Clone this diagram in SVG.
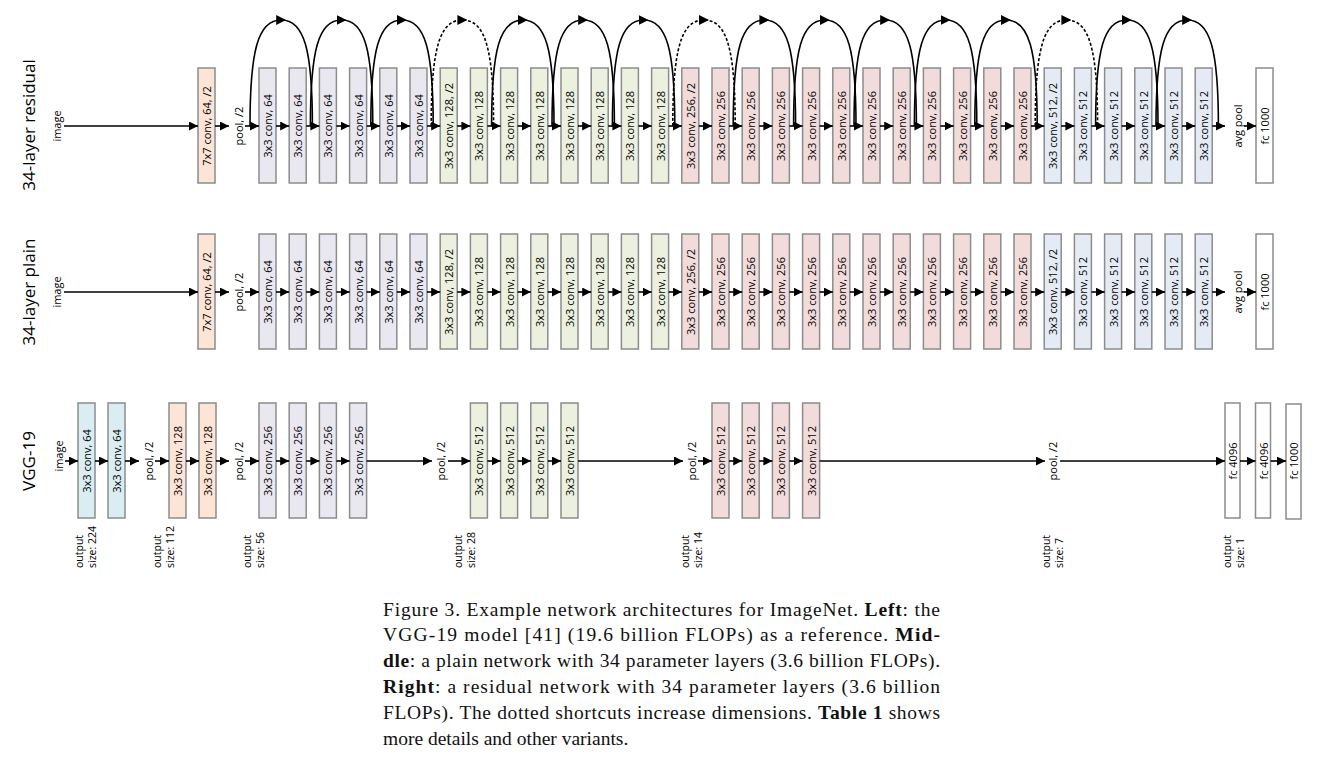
<svg xmlns="http://www.w3.org/2000/svg" width="1324" height="762" viewBox="0 0 1324 762">
<style>
.b{stroke:#8c8c8c;stroke-width:1.5}
.pu{fill:#e9e7f0}.gr{fill:#ebf1de}.pk{fill:#f2dcdb}.bl{fill:#e5ebf4}.or{fill:#fce4d6}.cy{fill:#daedf2}.wh{fill:#fff}
.t{font-family:"Open Sans","Liberation Sans",sans-serif;font-size:11px;fill:#000;text-anchor:middle;dominant-baseline:central}
.ti{font-family:"Open Sans","Liberation Sans",sans-serif;font-size:17px;fill:#000;text-anchor:middle;dominant-baseline:central}
.o{font-family:"Open Sans","Liberation Sans",sans-serif;font-size:10.5px;fill:#000;text-anchor:start}
.a{stroke:#000;stroke-width:1.6;fill:none;marker-end:url(#ah)}
.arc{stroke:#000;stroke-width:1.6;fill:none;marker-mid:url(#am)}
.d{stroke-dasharray:3,2}
.cap{font-family:"Liberation Serif",serif;font-size:19.5px;fill:#111}
</style>
<defs>
<marker id="ah" viewBox="0 0 10 10" refX="10" refY="5" markerWidth="9" markerHeight="9" markerUnits="userSpaceOnUse" orient="auto"><path d="M0,0L10,5L0,10z" fill="#000"/></marker>
<marker id="am" viewBox="0 0 10 10" refX="5" refY="5" markerWidth="10" markerHeight="10" markerUnits="userSpaceOnUse" orient="auto"><path d="M0,0L10,5L0,10z" fill="#000"/></marker>
</defs>
<rect width="1324" height="762" fill="#fff"/>
<text class="ti" transform="translate(28,125) rotate(-90)">34-layer residual</text>
<text class="ti" transform="translate(28,292) rotate(-90)">34-layer plain</text>
<text class="ti" transform="translate(28,461) rotate(-90)">VGG-19</text>

<g id="res-labels">
<text class="t" transform="translate(56,126) rotate(-90)">image</text>
<text class="t" transform="translate(238,126) rotate(-90)">pool, /2</text>
<text class="t" transform="translate(1237,126) rotate(-90)">avg pool</text>
</g>
<g id="res-n0"><rect class="b or" x="198" y="68" width="17" height="115"/><text class="t" transform="translate(206.5,126) rotate(-90)">7x7 conv, 64, /2</text></g>
<g id="res-n1"><rect class="b pu" x="259" y="68" width="17" height="115"/><text class="t" transform="translate(267.5,126) rotate(-90)">3x3 conv, 64</text></g>
<g id="res-n2"><rect class="b pu" x="289.2" y="68" width="17" height="115"/><text class="t" transform="translate(297.7,126) rotate(-90)">3x3 conv, 64</text></g>
<g id="res-n3"><rect class="b pu" x="319.4" y="68" width="17" height="115"/><text class="t" transform="translate(327.9,126) rotate(-90)">3x3 conv, 64</text></g>
<g id="res-n4"><rect class="b pu" x="349.6" y="68" width="17" height="115"/><text class="t" transform="translate(358.1,126) rotate(-90)">3x3 conv, 64</text></g>
<g id="res-n5"><rect class="b pu" x="379.8" y="68" width="17" height="115"/><text class="t" transform="translate(388.3,126) rotate(-90)">3x3 conv, 64</text></g>
<g id="res-n6"><rect class="b pu" x="410" y="68" width="17" height="115"/><text class="t" transform="translate(418.5,126) rotate(-90)">3x3 conv, 64</text></g>
<g id="res-n7"><rect class="b gr" x="440.2" y="68" width="17" height="115"/><text class="t" transform="translate(448.7,126) rotate(-90)">3x3 conv, 128, /2</text></g>
<g id="res-n8"><rect class="b gr" x="470.4" y="68" width="17" height="115"/><text class="t" transform="translate(478.9,126) rotate(-90)">3x3 conv, 128</text></g>
<g id="res-n9"><rect class="b gr" x="500.6" y="68" width="17" height="115"/><text class="t" transform="translate(509.1,126) rotate(-90)">3x3 conv, 128</text></g>
<g id="res-n10"><rect class="b gr" x="530.8" y="68" width="17" height="115"/><text class="t" transform="translate(539.3,126) rotate(-90)">3x3 conv, 128</text></g>
<g id="res-n11"><rect class="b gr" x="561" y="68" width="17" height="115"/><text class="t" transform="translate(569.5,126) rotate(-90)">3x3 conv, 128</text></g>
<g id="res-n12"><rect class="b gr" x="591.2" y="68" width="17" height="115"/><text class="t" transform="translate(599.7,126) rotate(-90)">3x3 conv, 128</text></g>
<g id="res-n13"><rect class="b gr" x="621.4" y="68" width="17" height="115"/><text class="t" transform="translate(629.9,126) rotate(-90)">3x3 conv, 128</text></g>
<g id="res-n14"><rect class="b gr" x="651.6" y="68" width="17" height="115"/><text class="t" transform="translate(660.1,126) rotate(-90)">3x3 conv, 128</text></g>
<g id="res-n15"><rect class="b pk" x="681.8" y="68" width="17" height="115"/><text class="t" transform="translate(690.3,126) rotate(-90)">3x3 conv, 256, /2</text></g>
<g id="res-n16"><rect class="b pk" x="712" y="68" width="17" height="115"/><text class="t" transform="translate(720.5,126) rotate(-90)">3x3 conv, 256</text></g>
<g id="res-n17"><rect class="b pk" x="742.2" y="68" width="17" height="115"/><text class="t" transform="translate(750.7,126) rotate(-90)">3x3 conv, 256</text></g>
<g id="res-n18"><rect class="b pk" x="772.4" y="68" width="17" height="115"/><text class="t" transform="translate(780.9,126) rotate(-90)">3x3 conv, 256</text></g>
<g id="res-n19"><rect class="b pk" x="802.6" y="68" width="17" height="115"/><text class="t" transform="translate(811.1,126) rotate(-90)">3x3 conv, 256</text></g>
<g id="res-n20"><rect class="b pk" x="832.8" y="68" width="17" height="115"/><text class="t" transform="translate(841.3,126) rotate(-90)">3x3 conv, 256</text></g>
<g id="res-n21"><rect class="b pk" x="863" y="68" width="17" height="115"/><text class="t" transform="translate(871.5,126) rotate(-90)">3x3 conv, 256</text></g>
<g id="res-n22"><rect class="b pk" x="893.2" y="68" width="17" height="115"/><text class="t" transform="translate(901.7,126) rotate(-90)">3x3 conv, 256</text></g>
<g id="res-n23"><rect class="b pk" x="923.4" y="68" width="17" height="115"/><text class="t" transform="translate(931.9,126) rotate(-90)">3x3 conv, 256</text></g>
<g id="res-n24"><rect class="b pk" x="953.6" y="68" width="17" height="115"/><text class="t" transform="translate(962.1,126) rotate(-90)">3x3 conv, 256</text></g>
<g id="res-n25"><rect class="b pk" x="983.8" y="68" width="17" height="115"/><text class="t" transform="translate(992.3,126) rotate(-90)">3x3 conv, 256</text></g>
<g id="res-n26"><rect class="b pk" x="1014" y="68" width="17" height="115"/><text class="t" transform="translate(1022.5,126) rotate(-90)">3x3 conv, 256</text></g>
<g id="res-n27"><rect class="b bl" x="1044.2" y="68" width="17" height="115"/><text class="t" transform="translate(1052.7,126) rotate(-90)">3x3 conv, 512, /2</text></g>
<g id="res-n28"><rect class="b bl" x="1074.4" y="68" width="17" height="115"/><text class="t" transform="translate(1082.9,126) rotate(-90)">3x3 conv, 512</text></g>
<g id="res-n29"><rect class="b bl" x="1104.6" y="68" width="17" height="115"/><text class="t" transform="translate(1113.1,126) rotate(-90)">3x3 conv, 512</text></g>
<g id="res-n30"><rect class="b bl" x="1134.8" y="68" width="17" height="115"/><text class="t" transform="translate(1143.3,126) rotate(-90)">3x3 conv, 512</text></g>
<g id="res-n31"><rect class="b bl" x="1165" y="68" width="17" height="115"/><text class="t" transform="translate(1173.5,126) rotate(-90)">3x3 conv, 512</text></g>
<g id="res-n32"><rect class="b bl" x="1195.2" y="68" width="17" height="115"/><text class="t" transform="translate(1203.7,126) rotate(-90)">3x3 conv, 512</text></g>
<g id="res-fc"><rect class="b wh" x="1256" y="68" width="17" height="115"/><text class="t" transform="translate(1264.5,126) rotate(-90)">fc 1000</text></g>

<g id="pl-labels">
<text class="t" transform="translate(56,292) rotate(-90)">image</text>
<text class="t" transform="translate(238,292) rotate(-90)">pool, /2</text>
<text class="t" transform="translate(1237,292) rotate(-90)">avg pool</text>
</g>
<g id="pl-n0"><rect class="b or" x="198" y="234" width="17" height="115"/><text class="t" transform="translate(206.5,292) rotate(-90)">7x7 conv, 64, /2</text></g>
<g id="pl-n1"><rect class="b pu" x="259" y="234" width="17" height="115"/><text class="t" transform="translate(267.5,292) rotate(-90)">3x3 conv, 64</text></g>
<g id="pl-n2"><rect class="b pu" x="289.2" y="234" width="17" height="115"/><text class="t" transform="translate(297.7,292) rotate(-90)">3x3 conv, 64</text></g>
<g id="pl-n3"><rect class="b pu" x="319.4" y="234" width="17" height="115"/><text class="t" transform="translate(327.9,292) rotate(-90)">3x3 conv, 64</text></g>
<g id="pl-n4"><rect class="b pu" x="349.6" y="234" width="17" height="115"/><text class="t" transform="translate(358.1,292) rotate(-90)">3x3 conv, 64</text></g>
<g id="pl-n5"><rect class="b pu" x="379.8" y="234" width="17" height="115"/><text class="t" transform="translate(388.3,292) rotate(-90)">3x3 conv, 64</text></g>
<g id="pl-n6"><rect class="b pu" x="410" y="234" width="17" height="115"/><text class="t" transform="translate(418.5,292) rotate(-90)">3x3 conv, 64</text></g>
<g id="pl-n7"><rect class="b gr" x="440.2" y="234" width="17" height="115"/><text class="t" transform="translate(448.7,292) rotate(-90)">3x3 conv, 128, /2</text></g>
<g id="pl-n8"><rect class="b gr" x="470.4" y="234" width="17" height="115"/><text class="t" transform="translate(478.9,292) rotate(-90)">3x3 conv, 128</text></g>
<g id="pl-n9"><rect class="b gr" x="500.6" y="234" width="17" height="115"/><text class="t" transform="translate(509.1,292) rotate(-90)">3x3 conv, 128</text></g>
<g id="pl-n10"><rect class="b gr" x="530.8" y="234" width="17" height="115"/><text class="t" transform="translate(539.3,292) rotate(-90)">3x3 conv, 128</text></g>
<g id="pl-n11"><rect class="b gr" x="561" y="234" width="17" height="115"/><text class="t" transform="translate(569.5,292) rotate(-90)">3x3 conv, 128</text></g>
<g id="pl-n12"><rect class="b gr" x="591.2" y="234" width="17" height="115"/><text class="t" transform="translate(599.7,292) rotate(-90)">3x3 conv, 128</text></g>
<g id="pl-n13"><rect class="b gr" x="621.4" y="234" width="17" height="115"/><text class="t" transform="translate(629.9,292) rotate(-90)">3x3 conv, 128</text></g>
<g id="pl-n14"><rect class="b gr" x="651.6" y="234" width="17" height="115"/><text class="t" transform="translate(660.1,292) rotate(-90)">3x3 conv, 128</text></g>
<g id="pl-n15"><rect class="b pk" x="681.8" y="234" width="17" height="115"/><text class="t" transform="translate(690.3,292) rotate(-90)">3x3 conv, 256, /2</text></g>
<g id="pl-n16"><rect class="b pk" x="712" y="234" width="17" height="115"/><text class="t" transform="translate(720.5,292) rotate(-90)">3x3 conv, 256</text></g>
<g id="pl-n17"><rect class="b pk" x="742.2" y="234" width="17" height="115"/><text class="t" transform="translate(750.7,292) rotate(-90)">3x3 conv, 256</text></g>
<g id="pl-n18"><rect class="b pk" x="772.4" y="234" width="17" height="115"/><text class="t" transform="translate(780.9,292) rotate(-90)">3x3 conv, 256</text></g>
<g id="pl-n19"><rect class="b pk" x="802.6" y="234" width="17" height="115"/><text class="t" transform="translate(811.1,292) rotate(-90)">3x3 conv, 256</text></g>
<g id="pl-n20"><rect class="b pk" x="832.8" y="234" width="17" height="115"/><text class="t" transform="translate(841.3,292) rotate(-90)">3x3 conv, 256</text></g>
<g id="pl-n21"><rect class="b pk" x="863" y="234" width="17" height="115"/><text class="t" transform="translate(871.5,292) rotate(-90)">3x3 conv, 256</text></g>
<g id="pl-n22"><rect class="b pk" x="893.2" y="234" width="17" height="115"/><text class="t" transform="translate(901.7,292) rotate(-90)">3x3 conv, 256</text></g>
<g id="pl-n23"><rect class="b pk" x="923.4" y="234" width="17" height="115"/><text class="t" transform="translate(931.9,292) rotate(-90)">3x3 conv, 256</text></g>
<g id="pl-n24"><rect class="b pk" x="953.6" y="234" width="17" height="115"/><text class="t" transform="translate(962.1,292) rotate(-90)">3x3 conv, 256</text></g>
<g id="pl-n25"><rect class="b pk" x="983.8" y="234" width="17" height="115"/><text class="t" transform="translate(992.3,292) rotate(-90)">3x3 conv, 256</text></g>
<g id="pl-n26"><rect class="b pk" x="1014" y="234" width="17" height="115"/><text class="t" transform="translate(1022.5,292) rotate(-90)">3x3 conv, 256</text></g>
<g id="pl-n27"><rect class="b bl" x="1044.2" y="234" width="17" height="115"/><text class="t" transform="translate(1052.7,292) rotate(-90)">3x3 conv, 512, /2</text></g>
<g id="pl-n28"><rect class="b bl" x="1074.4" y="234" width="17" height="115"/><text class="t" transform="translate(1082.9,292) rotate(-90)">3x3 conv, 512</text></g>
<g id="pl-n29"><rect class="b bl" x="1104.6" y="234" width="17" height="115"/><text class="t" transform="translate(1113.1,292) rotate(-90)">3x3 conv, 512</text></g>
<g id="pl-n30"><rect class="b bl" x="1134.8" y="234" width="17" height="115"/><text class="t" transform="translate(1143.3,292) rotate(-90)">3x3 conv, 512</text></g>
<g id="pl-n31"><rect class="b bl" x="1165" y="234" width="17" height="115"/><text class="t" transform="translate(1173.5,292) rotate(-90)">3x3 conv, 512</text></g>
<g id="pl-n32"><rect class="b bl" x="1195.2" y="234" width="17" height="115"/><text class="t" transform="translate(1203.7,292) rotate(-90)">3x3 conv, 512</text></g>
<g id="pl-fc"><rect class="b wh" x="1256" y="234" width="17" height="115"/><text class="t" transform="translate(1264.5,292) rotate(-90)">fc 1000</text></g>

<g id="vgg-labels">
<text class="t" transform="translate(58,456) rotate(-90)">image</text>
<text class="t" transform="translate(148,461) rotate(-90)">pool, /2</text>
<text class="t" transform="translate(238,461) rotate(-90)">pool, /2</text>
<text class="t" transform="translate(440,461) rotate(-90)">pool, /2</text>
<text class="t" transform="translate(691,461) rotate(-90)">pool, /2</text>
<text class="t" transform="translate(1052,461) rotate(-90)">pool, /2</text>
</g>
<g id="vgg-n1"><rect class="b cy" x="78" y="403" width="17" height="115"/><text class="t" transform="translate(86.5,461) rotate(-90)">3x3 conv, 64</text></g>
<g id="vgg-n2"><rect class="b cy" x="108" y="403" width="17" height="115"/><text class="t" transform="translate(116.5,461) rotate(-90)">3x3 conv, 64</text></g>
<g id="vgg-n3"><rect class="b or" x="169" y="403" width="17" height="115"/><text class="t" transform="translate(177.5,461) rotate(-90)">3x3 conv, 128</text></g>
<g id="vgg-n4"><rect class="b or" x="199" y="403" width="17" height="115"/><text class="t" transform="translate(207.5,461) rotate(-90)">3x3 conv, 128</text></g>
<g id="vgg-n5"><rect class="b pu" x="259" y="403" width="17" height="115"/><text class="t" transform="translate(267.5,461) rotate(-90)">3x3 conv, 256</text></g>
<g id="vgg-n6"><rect class="b pu" x="289.2" y="403" width="17" height="115"/><text class="t" transform="translate(297.7,461) rotate(-90)">3x3 conv, 256</text></g>
<g id="vgg-n7"><rect class="b pu" x="319.4" y="403" width="17" height="115"/><text class="t" transform="translate(327.9,461) rotate(-90)">3x3 conv, 256</text></g>
<g id="vgg-n8"><rect class="b pu" x="349.6" y="403" width="17" height="115"/><text class="t" transform="translate(358.1,461) rotate(-90)">3x3 conv, 256</text></g>
<g id="vgg-n9"><rect class="b gr" x="470.4" y="403" width="17" height="115"/><text class="t" transform="translate(478.9,461) rotate(-90)">3x3 conv, 512</text></g>
<g id="vgg-n10"><rect class="b gr" x="500.6" y="403" width="17" height="115"/><text class="t" transform="translate(509.1,461) rotate(-90)">3x3 conv, 512</text></g>
<g id="vgg-n11"><rect class="b gr" x="530.8" y="403" width="17" height="115"/><text class="t" transform="translate(539.3,461) rotate(-90)">3x3 conv, 512</text></g>
<g id="vgg-n12"><rect class="b gr" x="561" y="403" width="17" height="115"/><text class="t" transform="translate(569.5,461) rotate(-90)">3x3 conv, 512</text></g>
<g id="vgg-n13"><rect class="b pk" x="712" y="403" width="17" height="115"/><text class="t" transform="translate(720.5,461) rotate(-90)">3x3 conv, 512</text></g>
<g id="vgg-n14"><rect class="b pk" x="742.2" y="403" width="17" height="115"/><text class="t" transform="translate(750.7,461) rotate(-90)">3x3 conv, 512</text></g>
<g id="vgg-n15"><rect class="b pk" x="772.4" y="403" width="17" height="115"/><text class="t" transform="translate(780.9,461) rotate(-90)">3x3 conv, 512</text></g>
<g id="vgg-n16"><rect class="b pk" x="802.6" y="403" width="17" height="115"/><text class="t" transform="translate(811.1,461) rotate(-90)">3x3 conv, 512</text></g>
<g id="vgg-fc1"><rect class="b wh" x="1225" y="403" width="15" height="115"/><text class="t" transform="translate(1232.5,461) rotate(-90)">fc 4096</text></g>
<g id="vgg-fc2"><rect class="b wh" x="1255.5" y="403" width="15" height="115"/><text class="t" transform="translate(1263,461) rotate(-90)">fc 4096</text></g>
<g id="vgg-fc3"><rect class="b wh" x="1286" y="404" width="15" height="115"/><text class="t" transform="translate(1293.5,461) rotate(-90)">fc 1000</text></g>

<g id="outputs">
<text class="o" transform="translate(83,568) rotate(-90)">output</text><text class="o" transform="translate(96,568) rotate(-90)">size: 224</text>
<text class="o" transform="translate(161,568) rotate(-90)">output</text><text class="o" transform="translate(174,568) rotate(-90)">size: 112</text>
<text class="o" transform="translate(251,568) rotate(-90)">output</text><text class="o" transform="translate(264,568) rotate(-90)">size: 56</text>
<text class="o" transform="translate(462,568) rotate(-90)">output</text><text class="o" transform="translate(475,568) rotate(-90)">size: 28</text>
<text class="o" transform="translate(689,568) rotate(-90)">output</text><text class="o" transform="translate(702,568) rotate(-90)">size: 14</text>
<text class="o" transform="translate(1050,568) rotate(-90)">output</text><text class="o" transform="translate(1063,568) rotate(-90)">size: 7</text>
<text class="o" transform="translate(1231,568) rotate(-90)">output</text><text class="o" transform="translate(1244,568) rotate(-90)">size: 1</text>
</g>

<g id="connectors">
<path class="a" d="M64 126H198"/><path class="a" d="M215 126H229"/><path class="a" d="M245 126H259"/>
<path class="a" d="M276 126H289.2"/><path class="a" d="M306.2 126H319.4"/><path class="a" d="M336.4 126H349.6"/><path class="a" d="M366.6 126H379.8"/><path class="a" d="M396.8 126H410"/><path class="a" d="M427 126H440.2"/><path class="a" d="M457.2 126H470.4"/><path class="a" d="M487.4 126H500.6"/><path class="a" d="M517.6 126H530.8"/><path class="a" d="M547.8 126H561"/><path class="a" d="M578 126H591.2"/><path class="a" d="M608.2 126H621.4"/><path class="a" d="M638.4 126H651.6"/><path class="a" d="M668.6 126H681.8"/><path class="a" d="M698.8 126H712"/><path class="a" d="M729 126H742.2"/><path class="a" d="M759.2 126H772.4"/><path class="a" d="M789.4 126H802.6"/><path class="a" d="M819.6 126H832.8"/><path class="a" d="M849.8 126H863"/><path class="a" d="M880 126H893.2"/><path class="a" d="M910.2 126H923.4"/><path class="a" d="M940.4 126H953.6"/><path class="a" d="M970.6 126H983.8"/><path class="a" d="M1000.8 126H1014"/><path class="a" d="M1031 126H1044.2"/><path class="a" d="M1061.2 126H1074.4"/><path class="a" d="M1091.4 126H1104.6"/><path class="a" d="M1121.6 126H1134.8"/><path class="a" d="M1151.8 126H1165"/><path class="a" d="M1182 126H1195.2"/><path class="a" d="M1212.2 126H1225"/><path class="a" d="M1244 126H1256"/>
<path class="arc" d="M250 126C250 50 258 20 281.2 20C304.4 20 312.4 50 312.4 126"/>
<path class="arc" d="M310.4 126C310.4 50 318.4 20 341.6 20C364.8 20 372.8 50 372.8 126"/>
<path class="arc" d="M370.8 126C370.8 50 378.8 20 402 20C425.2 20 433.2 50 433.2 126"/>
<path class="arc d" d="M431.2 126C431.2 50 439.2 20 462.4 20C485.6 20 493.6 50 493.6 126"/>
<path class="arc" d="M491.6 126C491.6 50 499.6 20 522.8 20C546 20 554 50 554 126"/>
<path class="arc" d="M552 126C552 50 560 20 583.2 20C606.4 20 614.4 50 614.4 126"/>
<path class="arc" d="M612.4 126C612.4 50 620.4 20 643.6 20C666.8 20 674.8 50 674.8 126"/>
<path class="arc d" d="M672.8 126C672.8 50 680.8 20 704 20C727.2 20 735.2 50 735.2 126"/>
<path class="arc" d="M733.2 126C733.2 50 741.2 20 764.4 20C787.6 20 795.6 50 795.6 126"/>
<path class="arc" d="M793.6 126C793.6 50 801.6 20 824.8 20C848 20 856 50 856 126"/>
<path class="arc" d="M854 126C854 50 862 20 885.2 20C908.4 20 916.4 50 916.4 126"/>
<path class="arc" d="M914.4 126C914.4 50 922.4 20 945.6 20C968.8 20 976.8 50 976.8 126"/>
<path class="arc" d="M974.8 126C974.8 50 982.8 20 1006 20C1029.2 20 1037.2 50 1037.2 126"/>
<path class="arc d" d="M1035.2 126C1035.2 50 1043.2 20 1066.4 20C1089.6 20 1097.6 50 1097.6 126"/>
<path class="arc" d="M1095.6 126C1095.6 50 1103.6 20 1126.8 20C1150 20 1158 50 1158 126"/>
<path class="arc" d="M1156 126C1156 50 1164 20 1187.2 20C1210.4 20 1218.4 50 1218.4 126"/>
<path class="a" d="M64 292H198"/><path class="a" d="M215 292H229"/><path class="a" d="M245 292H259"/>
<path class="a" d="M276 292H289.2"/><path class="a" d="M306.2 292H319.4"/><path class="a" d="M336.4 292H349.6"/><path class="a" d="M366.6 292H379.8"/><path class="a" d="M396.8 292H410"/><path class="a" d="M427 292H440.2"/><path class="a" d="M457.2 292H470.4"/><path class="a" d="M487.4 292H500.6"/><path class="a" d="M517.6 292H530.8"/><path class="a" d="M547.8 292H561"/><path class="a" d="M578 292H591.2"/><path class="a" d="M608.2 292H621.4"/><path class="a" d="M638.4 292H651.6"/><path class="a" d="M668.6 292H681.8"/><path class="a" d="M698.8 292H712"/><path class="a" d="M729 292H742.2"/><path class="a" d="M759.2 292H772.4"/><path class="a" d="M789.4 292H802.6"/><path class="a" d="M819.6 292H832.8"/><path class="a" d="M849.8 292H863"/><path class="a" d="M880 292H893.2"/><path class="a" d="M910.2 292H923.4"/><path class="a" d="M940.4 292H953.6"/><path class="a" d="M970.6 292H983.8"/><path class="a" d="M1000.8 292H1014"/><path class="a" d="M1031 292H1044.2"/><path class="a" d="M1061.2 292H1074.4"/><path class="a" d="M1091.4 292H1104.6"/><path class="a" d="M1121.6 292H1134.8"/><path class="a" d="M1151.8 292H1165"/><path class="a" d="M1182 292H1195.2"/><path class="a" d="M1212.2 292H1225"/><path class="a" d="M1244 292H1256"/>
<path class="a" d="M65 461H78"/><path class="a" d="M95 461H108"/><path class="a" d="M125 461H139"/><path class="a" d="M155 461H169"/><path class="a" d="M186 461H199"/><path class="a" d="M216 461H229"/><path class="a" d="M245 461H259"/>
<path class="a" d="M276 461H289.2"/><path class="a" d="M306.2 461H319.4"/><path class="a" d="M336.4 461H349.6"/><path class="a" d="M366.6 461H432"/><path class="a" d="M448 461H470.4"/>
<path class="a" d="M487.4 461H500.6"/><path class="a" d="M517.6 461H530.8"/><path class="a" d="M547.8 461H561"/><path class="a" d="M578 461H683"/><path class="a" d="M698 461H712"/>
<path class="a" d="M729 461H742.2"/><path class="a" d="M759.2 461H772.4"/><path class="a" d="M789.4 461H802.6"/><path class="a" d="M819.6 461H1045"/><path class="a" d="M1060 461H1225"/><path class="a" d="M1240 461H1255.5"/><path class="a" d="M1270.5 461H1286"/>
</g>

<g id="caption">
<text class="cap" x="383" y="616" textLength="557" lengthAdjust="spacing">Figure 3. Example network architectures for ImageNet. <tspan font-weight="bold">Left</tspan>: the</text>
<text class="cap" x="383" y="641" textLength="557" lengthAdjust="spacing">VGG-19 model [41] (19.6 billion FLOPs) as a reference. <tspan font-weight="bold">Mid-</tspan></text>
<text class="cap" x="383" y="667" textLength="557" lengthAdjust="spacing"><tspan font-weight="bold">dle</tspan>: a plain network with 34 parameter layers (3.6 billion FLOPs).</text>
<text class="cap" x="383" y="693" textLength="557" lengthAdjust="spacing"><tspan font-weight="bold">Right</tspan>: a residual network with 34 parameter layers (3.6 billion</text>
<text class="cap" x="383" y="719" textLength="557" lengthAdjust="spacing">FLOPs). The dotted shortcuts increase dimensions. <tspan font-weight="bold">Table 1</tspan> shows</text>
<text class="cap" x="383" y="745">more details and other variants.</text>
</g>
</svg>
